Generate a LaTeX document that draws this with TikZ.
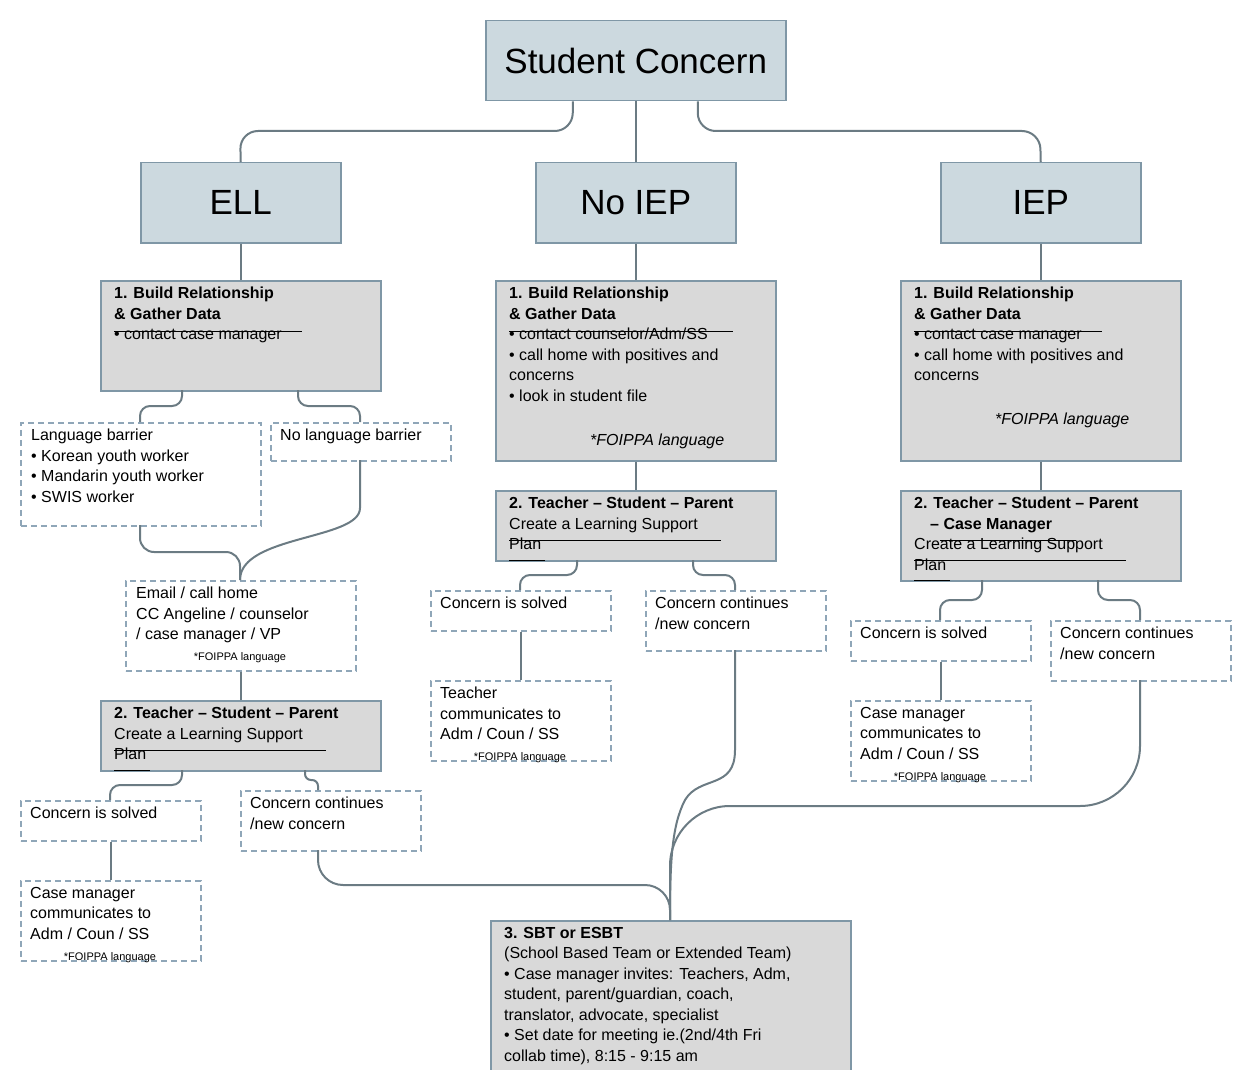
\documentclass[tikz,border=0pt]{standalone}
\usepackage{fontspec}
\setmainfont{Liberation Sans}
\begin{document}
\definecolor{hdr}{HTML}{CCD9DF}
\definecolor{stp}{HTML}{D9D9D9}
\definecolor{edge}{HTML}{7F97A6}
\definecolor{dsh}{HTML}{8FA6B8}
\definecolor{conn}{HTML}{6B7B83}
\begin{tikzpicture}[x=1pt,y=-1pt,
  hbox/.style={draw=edge,fill=hdr,line width=1.5pt},
  sbox/.style={draw=edge,fill=stp,line width=1.5pt},
  dbox/.style={draw=dsh,line width=1.5pt,dash pattern=on 6pt off 4pt},
  txt/.style={inner sep=0,align=left,font=\fontsize{16}{20.5}\selectfont},
  big/.style={font=\fontsize{35}{40}\selectfont},
  tiny/.style={inner sep=0,font=\fontsize{11}{12}\selectfont},
  ul/.style={line width=0.6pt},
  c/.style={draw=conn,line width=2pt,rounded corners=18pt}]
\useasboundingbox (0,0) rectangle (1256,1070);
\newcommand\mybox[6]{\node[#2,minimum width=#5pt,minimum height=#6pt,anchor=north west,inner sep=0] (#1) at (#3,#4) {};}
\newcommand\mytxt[3]{\node[txt,anchor=north west] (#1t) at ([xshift=#2pt,yshift=-7pt]#1.north west) {#3};}
% headers
\mybox{sc}{hbox}{485}{20}{300}{80}
\node[big] (sct) at (sc) {Student Concern};
\mybox{ell}{hbox}{140}{162}{200}{80}
\node[big] (ellt) at (ell) {ELL};
\mybox{noi}{hbox}{535}{162}{200}{80}
\node[big] (noit) at (noi) {No IEP};
\mybox{iep}{hbox}{940}{162}{200}{80}
\node[big] (iept) at (iep) {IEP};
% ELL column
\mybox{e1}{sbox}{100}{280}{280}{110}
\mytxt{e1}{14}{\textbf{1. Build Relationship}\\\textbf{\& Gather Data}\\• contact case manager}
\draw[ul] (114,331) -- (302,331);
\mybox{elb}{dbox}{20}{422}{240}{103}
\mytxt{elb}{11}{Language barrier\\• Korean youth worker\\• Mandarin youth worker\\• SWIS worker}
\mybox{enlb}{dbox}{270}{422}{180}{38}
\mytxt{enlb}{10}{No language barrier}
\mybox{em}{dbox}{125}{580}{230}{90}
\mytxt{em}{11}{Email / call home\\CC Angeline / counselor\\/ case manager / VP}
\node[tiny] (emf) at (240,658) {*FOIPPA language};
\mybox{e2}{sbox}{100}{700}{280}{70}
\mytxt{e2}{14}{\textbf{2. Teacher – Student – Parent}\\Create a Learning Support\\Plan}
\draw[ul] (114,750) -- (326,750); \draw[ul] (114,770) -- (150,770);
\mybox{es}{dbox}{20}{800}{180}{40}
\mytxt{es}{10}{Concern is solved}
\mybox{ec}{dbox}{240}{790}{180}{60}
\mytxt{ec}{10}{Concern continues\\ /new concern}
\mybox{ecm}{dbox}{20}{880}{180}{80}
\mytxt{ecm}{10}{Case manager\\communicates to\\Adm / Coun / SS}
\node[tiny] (ecmf) at (110,958) {*FOIPPA language};
% No IEP column
\mybox{n1}{sbox}{495}{280}{280}{180}
\mytxt{n1}{14}{\textbf{1. Build Relationship}\\\textbf{\& Gather Data}\\• contact counselor/Adm/SS\\• call home with positives and\\concerns\\• look in student file}
\draw[ul] (509,331) -- (733,331);
\node[txt,anchor=north west] (n1f) at (590,434) {\textit{*FOIPPA language}};
\mybox{n2}{sbox}{495}{490}{280}{70}
\mytxt{n2}{14}{\textbf{2. Teacher – Student – Parent}\\Create a Learning Support\\Plan}
\draw[ul] (509,540) -- (721,540); \draw[ul] (509,560) -- (545,560);
\mybox{ns}{dbox}{430}{590}{180}{40}
\mytxt{ns}{10}{Concern is solved}
\mybox{nc}{dbox}{645}{590}{180}{60}
\mytxt{nc}{10}{Concern continues\\ /new concern}
\mybox{nt}{dbox}{430}{680}{180}{80}
\mytxt{nt}{10}{Teacher\\communicates to\\Adm / Coun / SS}
\node[tiny] (ntf) at (520,758) {*FOIPPA language};
% IEP column
\mybox{i1}{sbox}{900}{280}{280}{180}
\mytxt{i1}{14}{\textbf{1. Build Relationship}\\\textbf{\& Gather Data}\\• contact case manager\\• call home with positives and\\concerns}
\draw[ul] (914,331) -- (1102,331);
\node[txt,anchor=north west] (i1f) at (995,413) {\textit{*FOIPPA language}};
\mybox{i2}{sbox}{900}{490}{280}{90}
\mytxt{i2}{14}{\textbf{2. Teacher – Student – Parent}\\\textbf{\quad – Case Manager}\\Create a Learning Support\\Plan}
\draw[ul] (940,540) -- (1076,540); \draw[ul] (914,560) -- (1126,560); \draw[ul] (914,580) -- (950,580);
\mybox{is}{dbox}{850}{620}{180}{40}
\mytxt{is}{10}{Concern is solved}
\mybox{ic}{dbox}{1050}{620}{180}{60}
\mytxt{ic}{10}{Concern continues\\ /new concern}
\mybox{icm}{dbox}{850}{700}{180}{80}
\mytxt{icm}{10}{Case manager\\communicates to\\Adm / Coun / SS}
\node[tiny] (icmf) at (940,778) {*FOIPPA language};
% SBT
\mybox{sbt}{sbox}{490}{920}{360}{170}
\mytxt{sbt}{14}{\textbf{3. SBT or ESBT}\\(School Based Team or Extended Team)\\• Case manager invites: Teachers, Adm,\\student, parent/guardian, coach,\\translator, advocate, specialist\\• Set date for meeting ie.(2nd/4th Fri\\collab time), 8:15 - 9:15 am}
\coordinate (sbtin) at (670,920);
% connectors
\path[c] ([xshift=-63pt]sc.south) |- (240,131) -- (ell.north);
\path[c] (sc.south) -- (noi.north);
\path[c] ([xshift=62pt]sc.south) |- (1040,131) -- (iep.north);
\path[c] (ell.south) -- (e1.north);
\path[c] (noi.south) -- (n1.north);
\path[c] (iep.south) -- (i1.north);
\path[c,rounded corners=10pt] (182,390) |- (140,406) -- (140,422);
\path[c,rounded corners=10pt] (298,390) |- (360,406) -- (360,422);
\path[c,rounded corners=14pt] (140,525) |- (240,552) -- (240,580);
\path[c] (360,460) -- (360,490) .. controls (360,540) and (240,535) .. (240,580);
\path[c] (em.south) -- (e2.north);
\path[c,rounded corners=10pt] (182,770) |- (110,785) -- (110,800);
\path[c,rounded corners=6pt] (305,770) |- (318,780) -- (318,790);
\path[c] (es.south) -- (ecm.north);
\path[c,rounded corners=25pt] (318,850) |- (670,885) -- (sbtin);
\path[c] (n1.south) -- (n2.north);
\path[c,rounded corners=10pt] (577,560) |- (520,575) -- (520,590);
\path[c,rounded corners=10pt] (693,560) |- (735,575) -- (735,590);
\path[c] (ns.south) -- (nt.north);
\path[c,rounded corners=0pt] (735,650) -- (735,750) .. controls (735,790) and (700,775) .. (685,800) .. controls (672,825) and (670,860) .. (sbtin);
\path[c] (i1.south) -- (i2.north);
\path[c,rounded corners=10pt] (982,580) |- (940,600) -- (940,620);
\path[c,rounded corners=10pt] (1098,580) |- (1140,600) -- (1140,620);
\path[c] (is.south) -- (icm.north);
\path[c,rounded corners=60pt] (1140,680) |- (670,806) -- (sbtin);
\end{tikzpicture}
\end{document}
